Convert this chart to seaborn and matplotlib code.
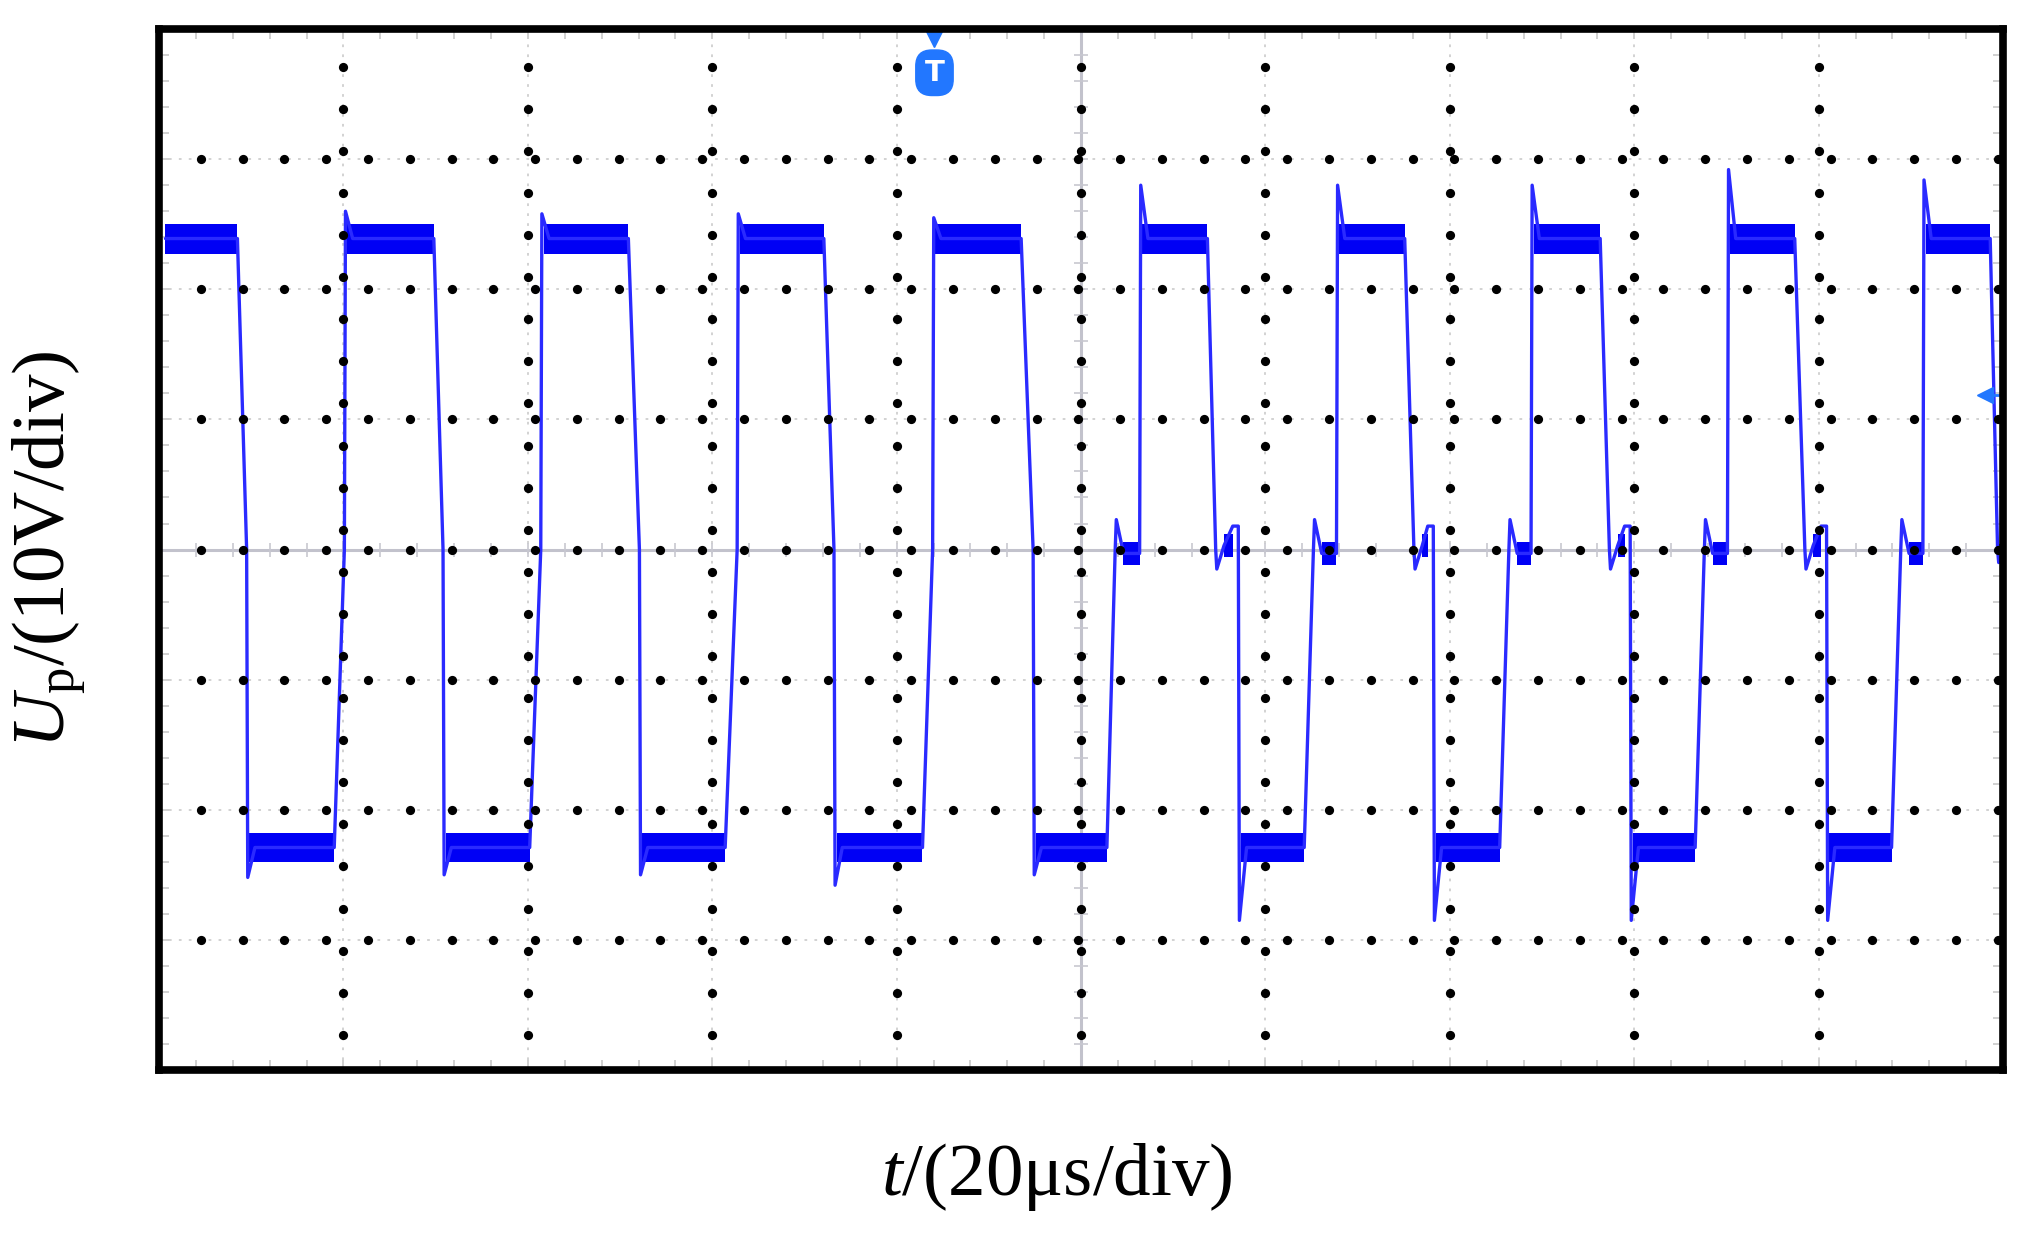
import matplotlib
matplotlib.use('Agg')
import matplotlib.pyplot as plt
import matplotlib.transforms as mtransforms
import numpy as np
import pandas as pd
import seaborn as sns

# scope screen: 10 x 8 divisions, 20 us/div and 10 V/div
t_lim_us = (-100, 100)
v_lim_v = (-40, 40)

high_v = 23.9
trace_start_us = -99.3
trace_end_us = 99.6

# one row per edge of the trace: where it starts, where the slow part reaches 0 V,
# the level it settles to, the overshoot right after it and the bump just before it
edge_start_us = [-91.5, -81.0, -70.2, -59.8, -49.1, -38.6, -27.9, -17.2, -6.5,
                 2.8, 6.35, 13.7, 17.05, 24.2, 27.7, 35.1, 38.2, 45.4, 48.8,
                 56.3, 59.55, 66.6, 70.1, 77.4, 80.85, 87.9, 91.3, 98.6]
edge_cross_us = [-90.5, -79.9, -69.2, -58.6, -47.9, -37.3, -26.8, -16.1, -5.2,
                 3.7, 6.35, 14.6, 17.05, 25.2, 27.7, 36.1, 38.2, 46.4, 48.8,
                 57.3, 59.55, 67.6, 70.1, 78.5, 80.85, 88.9, 91.3, 99.4]
edge_level_v = [-22.9, 23.9, -22.9, 23.9, -22.9, 23.9, -22.9, 23.9, -22.9,
                -0.3, 23.9, 0.3, -22.9, -0.3, 23.9, 0.3, -22.9, -0.3, 23.9,
                0.3, -22.9, -0.3, 23.9, 0.3, -22.9, -0.3, 23.9, 0.3]
edge_spike_v = [-25.2, 26.0, -25.0, 25.8, -25.0, 25.8, -25.8, 25.5, -25.0,
                2.3, 28.0, -1.5, -28.5, 2.3, 28.0, -1.5, -28.5, 2.3, 28.0,
                -1.5, -28.5, 2.3, 29.2, -1.5, -28.5, 2.3, 28.4, -1.0]
nan = float('nan')
edge_pre_v = [nan, nan, nan, nan, nan, nan, nan, nan, nan,
              nan, nan, nan, 1.8, nan, nan, nan, 1.8, nan, nan,
              nan, 1.8, nan, nan, nan, 1.8, nan, nan, nan]

trigger_us = -15.9
level_marker_v = 11.9

TRACE = '#2a2aff'
BAND = '#0000f5'
MARK = '#2277ff'


def build_trace():
    ts, vs = [trace_start_us], [high_v]
    prev = high_v
    for t0, tc, lvl, spk, pre in zip(edge_start_us, edge_cross_us, edge_level_v,
                                     edge_spike_v, edge_pre_v):
        if not np.isnan(pre):
            ts.append(t0 - 0.6)
            vs.append(pre)
            prev = pre
        ts.append(t0)
        vs.append(prev)
        if tc > t0:
            ts.append(tc)
            vs.append(0.0)
        ts += [tc + 0.12, tc + 0.9]
        vs += [spk, lvl]
        prev = lvl
    ts.append(trace_end_us)
    vs.append(prev)
    return pd.DataFrame({'t': ts, 'v': vs})


def plateaus():
    # (from, to, level) of every flat stretch, drawn as a solid noise band
    out = []
    starts = [trace_start_us] + [c + 0.3 for c in edge_cross_us]
    levels = [high_v] + list(edge_level_v)
    ends = [s - (0.6 if not np.isnan(p) else 0.0)
            for s, p in zip(edge_start_us, edge_pre_v)] + [trace_end_us]
    for a, b, lvl in zip(starts, ends, levels):
        if abs(lvl) < 5:
            a += 0.6
        if b > a:
            out.append((a, b, lvl))
    return out


def main():
    sns.set_theme(style='white')
    plt.rcParams['font.family'] = ['Liberation Serif', 'DejaVu Serif']
    plt.rcParams['mathtext.fontset'] = 'custom'
    plt.rcParams['mathtext.rm'] = 'Liberation Serif'
    plt.rcParams['mathtext.it'] = 'Liberation Serif:italic'

    fig = plt.figure(figsize=(20.39, 12.36), dpi=100)
    ax = fig.add_axes([0.078, 0.1343, 0.9044, 0.8422])
    ax.set_facecolor('white')

    # faint scope graticule
    for x in range(-80, 81, 20):
        if x == 0:
            ax.axvline(0, color='#c2c2cc', lw=2.2, zorder=1)
        else:
            ax.axvline(x, color='#cfcfcf', lw=1.3, ls=(0, (1.5, 4)), zorder=1)
    for y in range(-30, 31, 10):
        if y == 0:
            ax.axhline(0, color='#c2c2cc', lw=2.2, zorder=1)
        else:
            ax.axhline(y, color='#cfcfcf', lw=1.3, ls=(0, (1.5, 4)), zorder=1)
    cx = np.arange(-96, 100, 4)
    ax.plot(cx, np.zeros_like(cx), ls='none', marker='|', ms=10, mew=1.2,
            color='#c8c8d0', zorder=1)
    cy = np.arange(-38, 40, 2)
    ax.plot(np.zeros_like(cy), cy, ls='none', marker='_', ms=10, mew=1.2,
            color='#c8c8d0', zorder=1)

    # trace
    df = build_trace()
    for a, b, lvl in plateaus():
        hw = 1.15 if abs(lvl) > 5 else 0.9
        ax.fill_between([a, b], [lvl - hw] * 2, [lvl + hw] * 2, color=BAND,
                        lw=0, zorder=3)
    sns.lineplot(data=df, x='t', y='v', sort=False, estimator=None, color=TRACE,
                 lw=2.4, ax=ax, zorder=3)

    # black dot grid laid over the picture
    hx = -100 + 4.532 * np.arange(1, 45)
    vy = -37.3 + 3.235 * np.arange(24)
    dots = pd.concat(
        [pd.DataFrame({'t': hx, 'v': y}) for y in range(-30, 31, 10)] +
        [pd.DataFrame({'t': x, 'v': vy}) for x in range(-80, 81, 20)],
        ignore_index=True)
    sns.scatterplot(data=dots, x='t', y='v', color='black', s=44, marker='o',
                    linewidth=0, ax=ax, zorder=5)

    # trigger and level markers
    blend = mtransforms.blended_transform_factory(ax.transData, ax.transAxes)
    ax.text(trigger_us, 0.958, 'T', transform=blend, ha='center', va='center',
            color='white', fontsize=21, fontweight='bold', family='DejaVu Sans',
            zorder=6,
            bbox=dict(boxstyle='round,pad=0.3,rounding_size=0.55', fc=MARK, ec=MARK))
    ax.plot([trigger_us], [0.99], marker='v', ms=11, color=MARK, transform=blend,
            clip_on=False, zorder=6)
    ax.plot([98.0], [level_marker_v], marker='<', ms=12, color=MARK, zorder=6)
    ax.plot([98.0, 100], [level_marker_v, level_marker_v], color=MARK, lw=2, zorder=6)

    ax.set_xlim(*t_lim_us)
    ax.set_ylim(*v_lim_v)
    ax.set_xticks([])
    ax.set_yticks([])
    ax.set_xticks(np.arange(-96, 100, 4), minor=True)
    ax.set_yticks(np.arange(-38, 40, 2), minor=True)
    ax.tick_params(which='minor', direction='in', length=7, width=1.2,
                   color='#c8c8c8', top=True, right=True, bottom=True, left=True,
                   labelbottom=False, labelleft=False)
    for s in ax.spines.values():
        s.set_linewidth(5.5)
        s.set_color('black')
        s.set_zorder(10)

    ax.set_xlabel(r'$t$/(20μs/div)', fontsize=54, color='black', va='center')
    ax.xaxis.set_label_coords(0.487, -0.103)
    ax.set_ylabel(r'$U_{\mathrm{p}}$/(10V/div)', fontsize=54, color='black',
                  va='center')
    ax.yaxis.set_label_coords(-0.06, 0.5)

    fig.savefig('out.png', dpi=100, facecolor='white')


if __name__ == '__main__':
    main()
